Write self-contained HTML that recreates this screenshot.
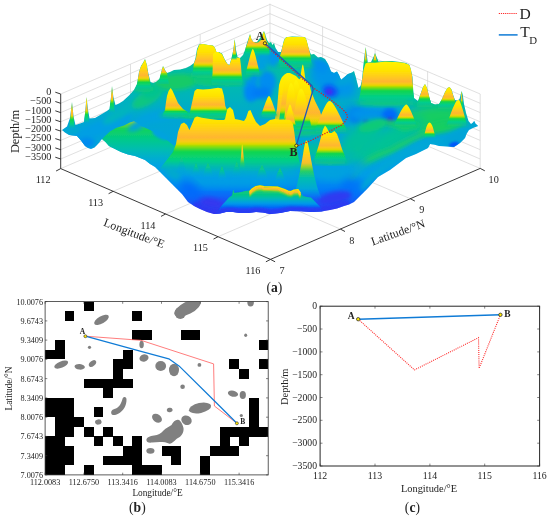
<!DOCTYPE html>
<html><head><meta charset="utf-8"><title>Figure</title>
<style>html,body{margin:0;padding:0;background:#fff}svg{display:block}text{font-family:"Liberation Serif", "DejaVu Serif", serif;fill:#222}</style>
</head><body>
<svg width="550" height="518" viewBox="0 0 550 518">
<rect width="550" height="518" fill="#fff"/>
<g id="panel-a">

<defs>
<linearGradient id="pk" x1="0" y1="0" x2="0" y2="1"><stop offset="0" stop-color="#fff205"/><stop offset="0.22" stop-color="#ffd80a"/><stop offset="0.48" stop-color="#ffbd2a"/><stop offset="0.62" stop-color="#f8bf2c"/><stop offset="0.72" stop-color="#c2cc27"/><stop offset="0.84" stop-color="#3cd059"/><stop offset="0.93" stop-color="#00c394"/><stop offset="1" stop-color="#00b9ab" stop-opacity="0"/></linearGradient>
<linearGradient id="pk2" x1="0" y1="0" x2="0" y2="1"><stop offset="0" stop-color="#fff205"/><stop offset="0.25" stop-color="#ffd80a"/><stop offset="0.55" stop-color="#ffbd2a"/><stop offset="0.72" stop-color="#f8bf2c"/><stop offset="0.84" stop-color="#b4cc2b"/><stop offset="0.94" stop-color="#3cd059"/><stop offset="1" stop-color="#10ca7e"/></linearGradient>
<linearGradient id="sp" x1="0" y1="0" x2="0" y2="1"><stop offset="0" stop-color="#ffec07"/><stop offset="0.2" stop-color="#ffc828"/><stop offset="0.38" stop-color="#f4c02c"/><stop offset="0.48" stop-color="#a6d226"/><stop offset="0.6" stop-color="#22ce6c"/><stop offset="0.8" stop-color="#00b9b5"/><stop offset="1" stop-color="#00a9ce" stop-opacity="0"/></linearGradient>
<linearGradient id="base" x1="0" y1="40" x2="0" y2="214" gradientUnits="userSpaceOnUse"><stop offset="0" stop-color="#05c293"/><stop offset="0.29" stop-color="#00b7b5"/><stop offset="0.46" stop-color="#00a6d2"/><stop offset="0.63" stop-color="#00a3de"/><stop offset="0.775" stop-color="#009de7"/><stop offset="0.86" stop-color="#007cf7"/><stop offset="0.935" stop-color="#1b51f7"/><stop offset="1" stop-color="#3b31eb"/></linearGradient>
<filter id="b1" x="-20%" y="-20%" width="140%" height="140%"><feGaussianBlur stdDeviation="0.6"/></filter>
<filter id="b2" x="-30%" y="-30%" width="160%" height="160%"><feGaussianBlur stdDeviation="2.2"/></filter>
<filter id="b3" x="-30%" y="-30%" width="160%" height="160%"><feGaussianBlur stdDeviation="4"/></filter>
<filter id="b4" x="-30%" y="-30%" width="160%" height="160%"><feGaussianBlur stdDeviation="1.2"/></filter>
<clipPath id="sil"><polygon points="62.0,130.0 67.0,126.5 70.0,118.0 72.0,102.0 73.6,117.0 75.5,125.0 80.0,123.5 84.0,122.0 85.4,110.0 86.5,97.0 88.0,110.0 89.6,118.5 95.0,118.0 101.0,114.5 107.0,111.0 109.5,109.0 111.0,97.0 112.0,86.0 113.4,97.0 115.5,105.0 119.0,103.5 123.0,101.0 129.0,95.5 134.0,90.0 137.0,84.0 139.0,72.0 141.0,66.0 143.5,62.0 145.0,59.0 146.6,64.0 148.5,74.0 150.5,82.0 153.0,83.0 156.0,82.0 159.5,79.0 161.5,71.0 163.0,66.0 165.0,70.0 167.0,73.0 170.0,72.0 174.0,70.0 180.0,69.5 186.0,68.0 190.0,66.0 194.0,63.0 195.5,58.0 197.0,49.0 199.0,44.5 203.0,44.0 208.0,45.0 213.0,45.5 215.0,48.0 216.5,52.0 219.0,52.0 222.0,53.5 225.0,60.0 227.5,64.0 229.5,65.0 231.5,58.0 233.3,50.0 234.7,39.0 236.0,50.0 237.6,57.0 240.0,58.0 243.0,55.0 245.0,50.0 247.0,43.0 249.0,37.0 250.0,34.0 251.4,39.0 253.5,42.0 257.0,42.0 260.0,38.0 262.5,34.0 264.0,31.0 265.4,35.0 267.0,40.0 269.0,43.0 271.0,42.0 272.5,45.0 274.0,43.0 275.5,48.0 278.0,52.0 281.0,52.0 282.5,46.0 284.0,40.0 286.0,37.3 292.0,36.6 299.0,36.8 305.0,37.2 306.5,40.0 308.0,46.0 309.5,51.0 311.0,54.5 314.0,54.0 318.0,57.5 321.0,57.0 325.0,59.0 328.0,64.0 331.0,71.5 334.0,73.0 337.0,71.5 339.0,75.0 341.0,80.0 344.0,77.5 348.0,74.0 352.0,72.5 354.0,71.0 356.0,78.0 358.5,88.0 360.5,86.0 362.0,80.0 363.3,66.0 364.6,55.0 365.7,47.0 366.8,55.0 367.8,62.5 371.0,62.0 373.5,57.0 375.0,53.0 376.6,57.0 378.5,61.5 385.0,61.0 392.0,61.0 400.0,62.0 406.0,63.0 409.5,65.0 411.0,70.0 412.5,77.0 413.2,90.0 414.0,98.0 418.0,101.0 420.5,94.0 423.0,87.0 425.0,84.0 427.0,88.0 429.0,96.0 431.0,103.0 435.0,104.5 439.0,104.0 442.0,99.0 445.0,92.0 447.5,88.0 449.5,87.0 451.5,89.5 453.5,96.0 455.0,100.0 457.5,100.5 459.5,99.0 460.8,94.0 461.7,91.0 462.8,95.0 464.0,104.0 466.0,113.0 468.5,121.0 471.0,124.0 473.0,122.5 474.2,120.8 475.5,123.5 478.2,126.0 473.0,128.0 469.0,130.0 466.5,134.0 465.0,138.0 460.0,143.0 454.0,147.0 447.0,146.5 439.0,146.0 434.0,144.5 430.0,144.0 428.0,148.0 422.0,151.0 416.0,154.0 411.0,156.0 406.0,158.0 402.0,161.0 398.0,164.0 394.0,167.0 390.0,170.0 384.0,173.5 378.0,177.0 373.0,182.5 368.0,188.0 365.0,191.0 362.0,194.0 358.0,198.0 354.0,202.0 349.0,204.5 344.0,206.0 337.0,208.5 330.0,210.0 321.0,211.5 312.0,212.0 301.0,211.2 290.0,211.0 280.0,213.0 270.0,214.0 263.0,212.5 256.0,212.0 248.0,213.0 240.0,213.0 233.0,212.0 226.0,212.0 220.0,213.5 214.0,214.0 207.0,212.0 200.0,209.0 194.0,206.0 188.0,202.0 185.0,198.0 182.0,194.0 177.0,189.0 172.0,184.0 166.0,178.0 160.0,172.0 155.0,167.0 150.0,164.0 145.0,160.0 140.0,158.0 135.0,156.0 128.0,154.5 121.0,152.0 115.0,149.0 109.0,146.0 105.5,142.0 102.0,139.0 100.0,141.5 98.0,144.0 94.5,147.5 91.0,149.0 88.0,148.0 85.0,146.0 81.0,140.5 77.0,136.0 73.0,135.5 69.0,135.0 65.0,132.5"/></clipPath>
</defs>
<path d="M60.7,94.0 L270.0,4.4 L480.2,94.0 M60.7,103.3 L270.0,13.7 L480.2,103.3 M60.7,112.6 L270.0,23.0 L480.2,112.6 M60.7,121.8 L270.0,32.2 L480.2,121.8 M60.7,131.1 L270.0,41.5 L480.2,131.1 M60.7,140.4 L270.0,50.8 L480.2,140.4 M60.7,149.7 L270.0,60.1 L480.2,149.7 M60.7,159.0 L270.0,69.4 L480.2,159.0 M130.5,138.7 v-74.6 M200.2,108.9 v-74.6 M322.6,101.3 v-74.6 M375.1,123.7 v-74.6 M427.6,146.1 v-74.6 M270.0,79.0 V3.6 M480.2,168.4 V94 M60.7,168.6 L270.0,79.0 L480.2,168.4 M340.4,229.1 L130.5,138.7 M410.3,198.7 L200.2,108.9 M113.2,191.3 L322.6,101.3 M165.6,214.0 L375.1,123.7 M218.1,236.7 L427.6,146.1" fill="none" stroke="#d2d2d2" stroke-width="0.7"/>
<g clip-path="url(#sil)">
<rect x="55" y="25" width="430" height="195" fill="url(#base)"/>
<defs>
<linearGradient id="rg" x1="0" y1="0" x2="0" y2="1"><stop offset="0" stop-color="#21d25c"/><stop offset="0.35" stop-color="#09c881"/><stop offset="0.7" stop-color="#00b9b0"/><stop offset="1" stop-color="#00a9ce" stop-opacity="0"/></linearGradient>
<linearGradient id="rg2" x1="0" y1="0" x2="0" y2="1"><stop offset="0" stop-color="#10ca77"/><stop offset="0.5" stop-color="#00bbab"/><stop offset="1" stop-color="#00a9ce" stop-opacity="0"/></linearGradient>
<linearGradient id="rgy" x1="0" y1="0" x2="0" y2="1"><stop offset="0" stop-color="#c2d81f"/><stop offset="0.06" stop-color="#6fd62f"/><stop offset="0.16" stop-color="#13d25d"/><stop offset="0.36" stop-color="#00ca88"/><stop offset="0.6" stop-color="#00bbb5"/><stop offset="0.85" stop-color="#00acd6" stop-opacity="0.6"/><stop offset="1" stop-color="#00a9e3" stop-opacity="0"/></linearGradient>
</defs>
<ellipse cx="100.0" cy="128.0" rx="34.0" ry="7.0" fill="#009fe3" filter="url(#b2)" transform="rotate(-22 100.0 128.0)"/>
<ellipse cx="86.0" cy="143.0" rx="9.0" ry="5.0" fill="#008aef" filter="url(#b2)" transform="rotate(-5 86.0 143.0)"/>
<ellipse cx="72.0" cy="131.0" rx="8.0" ry="3.0" fill="#00a8d2" filter="url(#b4)" transform="rotate(0 72.0 131.0)"/>
<ellipse cx="120.0" cy="113.0" rx="20.0" ry="5.0" fill="#00b4be" filter="url(#b2)" transform="rotate(-32 120.0 113.0)"/>
<ellipse cx="147.0" cy="98.0" rx="17.0" ry="7.0" fill="#0cc681" filter="url(#b2)" transform="rotate(-32 147.0 98.0)"/>
<polygon points="99.0,143.0 104.0,137.0 110.0,131.5 116.0,128.0 124.0,125.5 130.0,122.5 134.0,121.3 137.0,122.8 141.0,126.0 149.0,129.5 158.0,134.0 168.0,141.0 178.0,149.0 184.0,170.0 150.0,168.0 122.0,155.0 104.0,147.0" fill="url(#rgy)" filter="url(#b1)"/>
<ellipse cx="160.0" cy="135.0" rx="9.0" ry="3.4" fill="#00a3de" filter="url(#b4)" transform="rotate(28 160.0 135.0)"/>
<ellipse cx="176.0" cy="82.0" rx="22.0" ry="8.0" fill="#15ca68" filter="url(#b2)" transform="rotate(-5 176.0 82.0)"/>
<ellipse cx="152.0" cy="92.0" rx="10.0" ry="6.0" fill="#05c291" filter="url(#b2)" transform="rotate(-20 152.0 92.0)"/>
<ellipse cx="160.0" cy="116.0" rx="26.0" ry="6.0" fill="#00a3de" filter="url(#b2)" transform="rotate(-12 160.0 116.0)"/>
<ellipse cx="137.0" cy="126.0" rx="10.0" ry="4.0" fill="#00a3de" filter="url(#b2)" transform="rotate(-25 137.0 126.0)"/>
<ellipse cx="186.0" cy="116.0" rx="10.0" ry="3.5" fill="#00a6da" filter="url(#b4)" transform="rotate(0 186.0 116.0)"/>
<ellipse cx="207.0" cy="80.0" rx="14.0" ry="6.0" fill="#0bc87a" filter="url(#b2)" transform="rotate(0 207.0 80.0)"/>
<ellipse cx="205.0" cy="116.0" rx="24.0" ry="3.0" fill="#09c87e" filter="url(#b4)" transform="rotate(0 205.0 116.0)"/>
<ellipse cx="176.0" cy="113.0" rx="12.0" ry="2.6" fill="#09c87e" filter="url(#b4)" transform="rotate(0 176.0 113.0)"/>
<ellipse cx="251.0" cy="80.0" rx="7.0" ry="22.0" fill="#0092eb" filter="url(#b2)" transform="rotate(4 251.0 80.0)"/>
<ellipse cx="252.0" cy="93.0" rx="7.0" ry="8.0" fill="#0084f7" filter="url(#b2)" transform="rotate(0 252.0 93.0)"/>
<ellipse cx="262.0" cy="62.0" rx="7.0" ry="10.0" fill="#00a0de" filter="url(#b2)" transform="rotate(15 262.0 62.0)"/>
<ellipse cx="246.0" cy="72.0" rx="6.0" ry="8.0" fill="#03c291" filter="url(#b2)" transform="rotate(0 246.0 72.0)"/>
<ellipse cx="274.0" cy="58.0" rx="7.0" ry="9.0" fill="#0096e9" filter="url(#b2)" transform="rotate(0 274.0 58.0)"/>
<ellipse cx="267.0" cy="82.0" rx="9.0" ry="11.0" fill="#008def" filter="url(#b2)" transform="rotate(0 267.0 82.0)"/>
<ellipse cx="262.0" cy="93.0" rx="10.0" ry="6.0" fill="#007cf5" filter="url(#b2)" transform="rotate(0 262.0 93.0)"/>
<ellipse cx="333.0" cy="82.0" rx="26.0" ry="15.0" fill="#0095e9" filter="url(#b3)" transform="rotate(25 333.0 82.0)"/>
<ellipse cx="320.0" cy="66.0" rx="10.0" ry="7.0" fill="#008fed" filter="url(#b2)" transform="rotate(20 320.0 66.0)"/>
<ellipse cx="330.0" cy="91.0" rx="8.0" ry="6.0" fill="#1150f9" filter="url(#b2)" transform="rotate(20 330.0 91.0)"/>
<ellipse cx="329.0" cy="92.0" rx="3.5" ry="3.0" fill="#4032ef" filter="url(#b4)" transform="rotate(0 329.0 92.0)"/>
<ellipse cx="356.0" cy="116.0" rx="6.0" ry="7.0" fill="#0564fb" filter="url(#b2)" transform="rotate(0 356.0 116.0)"/>
<ellipse cx="365.5" cy="120.5" rx="3.0" ry="3.0" fill="#253df3" filter="url(#b4)" transform="rotate(0 365.5 120.5)"/>
<ellipse cx="356.0" cy="114.0" rx="14.0" ry="8.0" fill="#008ceb" filter="url(#b3)" transform="rotate(0 356.0 114.0)"/>
<ellipse cx="345.0" cy="80.0" rx="10.0" ry="5.0" fill="#00a3da" filter="url(#b2)" transform="rotate(-20 345.0 80.0)"/>
<ellipse cx="432.0" cy="118.0" rx="34.0" ry="12.0" fill="#16cd62" filter="url(#b3)" transform="rotate(-8 432.0 118.0)"/>
<ellipse cx="440.0" cy="127.0" rx="22.0" ry="6.0" fill="#19ce60" filter="url(#b2)" transform="rotate(-12 440.0 127.0)"/>
<ellipse cx="385.0" cy="98.0" rx="24.0" ry="5.0" fill="#10ca74" filter="url(#b2)" transform="rotate(0 385.0 98.0)"/>
<ellipse cx="384.0" cy="107.0" rx="20.0" ry="4.0" fill="#00acca" filter="url(#b2)" transform="rotate(0 384.0 107.0)"/>
<ellipse cx="372.0" cy="114.0" rx="20.0" ry="6.0" fill="#0092eb" filter="url(#b2)" transform="rotate(0 372.0 114.0)"/>
<ellipse cx="390.0" cy="116.0" rx="8.0" ry="8.0" fill="#0569f9" filter="url(#b2)" transform="rotate(0 390.0 116.0)"/>
<ellipse cx="390.0" cy="120.5" rx="3.5" ry="3.5" fill="#2e36f1" filter="url(#b4)" transform="rotate(0 390.0 120.5)"/>
<ellipse cx="386.0" cy="142.0" rx="44.0" ry="11.0" fill="#03c296" filter="url(#b3)" transform="rotate(-31 386.0 142.0)"/>
<polyline points="416.0,125.0 404.0,128.0 396.0,124.5 386.0,122.5 378.0,124.0 371.0,129.5 364.0,137.5 357.0,147.5" fill="none" stroke="#19cc6a" stroke-width="6" stroke-linejoin="round" stroke-linecap="round" filter="url(#b2)"/>
<polyline points="426.0,132.5 411.0,139.5 391.0,150.0 378.0,155.0 368.0,160.0 358.0,167.5 350.0,178.0" fill="none" stroke="#15ca72" stroke-width="6" stroke-linejoin="round" stroke-linecap="round" filter="url(#b2)"/>
<polyline points="440.0,140.0 420.0,147.0 400.0,156.0 385.0,166.0 372.0,177.0 362.0,188.0" fill="none" stroke="#00a8d6" stroke-width="6" stroke-linejoin="round" stroke-linecap="round" filter="url(#b2)"/>
<ellipse cx="455.0" cy="139.0" rx="12.0" ry="5.0" fill="#00a3d6" filter="url(#b2)" transform="rotate(-25 455.0 139.0)"/>
<ellipse cx="454.0" cy="144.5" rx="5.0" ry="2.6" fill="#0555fb" filter="url(#b4)" transform="rotate(-15 454.0 144.5)"/>
<ellipse cx="362.0" cy="138.0" rx="24.0" ry="13.0" fill="#02c09b" filter="url(#b3)" transform="rotate(-35 362.0 138.0)"/>
<ellipse cx="372.0" cy="126.0" rx="14.0" ry="5.0" fill="#10ca77" filter="url(#b2)" transform="rotate(-15 372.0 126.0)"/>
<ellipse cx="352.0" cy="172.0" rx="18.0" ry="7.0" fill="#00a0e3" filter="url(#b3)" transform="rotate(-30 352.0 172.0)"/>
<ellipse cx="350.0" cy="188.0" rx="10.0" ry="12.0" fill="#0074f7" filter="url(#b3)" transform="rotate(-35 350.0 188.0)"/>
<ellipse cx="335.0" cy="198.0" rx="17.0" ry="6.5" fill="#2d3af1" filter="url(#b2)" transform="rotate(-12 335.0 198.0)"/>
<ellipse cx="236.0" cy="158.0" rx="64.0" ry="7.0" fill="#14cc6f" filter="url(#b3)" transform="rotate(2 236.0 158.0)"/>
<ellipse cx="236.0" cy="170.0" rx="64.0" ry="5.0" fill="#00b5b9" filter="url(#b3)" transform="rotate(2 236.0 170.0)"/>
<ellipse cx="240.0" cy="181.0" rx="70.0" ry="6.0" fill="#00a0e3" filter="url(#b3)" transform="rotate(0 240.0 181.0)"/>
<ellipse cx="211.0" cy="203.0" rx="14.0" ry="5.0" fill="#3537ef" filter="url(#b2)" transform="rotate(8 211.0 203.0)"/>
<ellipse cx="190.0" cy="190.0" rx="12.0" ry="7.0" fill="#0569fb" filter="url(#b3)" transform="rotate(40 190.0 190.0)"/>
<ellipse cx="172.0" cy="172.0" rx="10.0" ry="5.0" fill="#00a9ce" filter="url(#b2)" transform="rotate(40 172.0 172.0)"/>
<ellipse cx="326.0" cy="152.0" rx="24.0" ry="8.0" fill="#05c296" filter="url(#b3)" transform="rotate(10 326.0 152.0)"/>
<ellipse cx="332.0" cy="172.0" rx="18.0" ry="7.0" fill="#00a2de" filter="url(#b3)" transform="rotate(0 332.0 172.0)"/>
<defs>
<linearGradient id="g1" x1="0" y1="101" x2="0" y2="129" gradientUnits="userSpaceOnUse"><stop offset="0.000" stop-color="#fff305"/><stop offset="0.217" stop-color="#ffe200"/><stop offset="0.366" stop-color="#ffc624"/><stop offset="0.446" stop-color="#ffb630"/><stop offset="0.503" stop-color="#f8ca18"/><stop offset="0.543" stop-color="#dcd800"/><stop offset="0.571" stop-color="#9ade07"/><stop offset="0.666" stop-color="#12d64d"/><stop offset="0.829" stop-color="#00ce8b"/><stop offset="1.000" stop-color="#00bba8" stop-opacity="0"/></linearGradient>
</defs>
<path d="M68.2,129.0 C70.3,129.0 71.4,101.0 72.0,101.0 C72.6,101.0 73.7,129.0 75.8,129.0 Z" fill="url(#g1)"/>
<defs>
<linearGradient id="g2" x1="0" y1="96" x2="0" y2="123" gradientUnits="userSpaceOnUse"><stop offset="0.000" stop-color="#fff305"/><stop offset="0.225" stop-color="#ffe200"/><stop offset="0.379" stop-color="#ffc624"/><stop offset="0.462" stop-color="#ffb630"/><stop offset="0.521" stop-color="#f8ca18"/><stop offset="0.563" stop-color="#dcd800"/><stop offset="0.593" stop-color="#9ade07"/><stop offset="0.682" stop-color="#12d64d"/><stop offset="0.837" stop-color="#00ce8b"/><stop offset="1.000" stop-color="#00bba8" stop-opacity="0"/></linearGradient>
</defs>
<path d="M82.9,123.0 C84.9,123.0 85.9,96.0 86.5,96.0 C87.1,96.0 88.1,123.0 90.1,123.0 Z" fill="url(#g2)"/>
<defs>
<linearGradient id="g3" x1="0" y1="85" x2="0" y2="113" gradientUnits="userSpaceOnUse"><stop offset="0.000" stop-color="#fff305"/><stop offset="0.217" stop-color="#ffe200"/><stop offset="0.366" stop-color="#ffc624"/><stop offset="0.446" stop-color="#ffb630"/><stop offset="0.503" stop-color="#f8ca18"/><stop offset="0.543" stop-color="#dcd800"/><stop offset="0.571" stop-color="#9ade07"/><stop offset="0.666" stop-color="#12d64d"/><stop offset="0.829" stop-color="#00ce8b"/><stop offset="1.000" stop-color="#00bba8" stop-opacity="0"/></linearGradient>
</defs>
<path d="M108.0,113.0 C110.2,113.0 111.4,85.0 112.0,85.0 C112.6,85.0 113.8,113.0 116.0,113.0 Z" fill="url(#g3)"/>
<ellipse cx="143.5" cy="88.8" rx="11.5" ry="3.0" fill="#10ca77" filter="url(#b2)" transform="rotate(0 143.5 88.8)"/>
<defs>
<linearGradient id="g4" x1="0" y1="58.6" x2="0" y2="90" gradientUnits="userSpaceOnUse"><stop offset="0.000" stop-color="#fff305"/><stop offset="0.259" stop-color="#ffe200"/><stop offset="0.436" stop-color="#ffc624"/><stop offset="0.532" stop-color="#ffb630"/><stop offset="0.600" stop-color="#f8ca18"/><stop offset="0.647" stop-color="#dcd800"/><stop offset="0.682" stop-color="#9ade07"/><stop offset="0.752" stop-color="#12d64d"/><stop offset="0.873" stop-color="#00ce8b"/><stop offset="1.000" stop-color="#00bba8" stop-opacity="0"/></linearGradient>
</defs>
<polygon points="135.0,90.0 137.0,84.0 138.5,74.0 140.0,68.0 141.7,65.0 143.0,63.0 145.0,58.6 146.7,63.0 148.0,72.0 150.0,82.0 152.0,90.0" fill="url(#g4)" filter="url(#b1)"/>
<defs>
<linearGradient id="g5" x1="0" y1="65.6" x2="0" y2="86" gradientUnits="userSpaceOnUse"><stop offset="0.000" stop-color="#fff305"/><stop offset="0.138" stop-color="#ffe200"/><stop offset="0.232" stop-color="#ffc624"/><stop offset="0.283" stop-color="#ffb630"/><stop offset="0.319" stop-color="#f8ca18"/><stop offset="0.345" stop-color="#dcd800"/><stop offset="0.363" stop-color="#9ade07"/><stop offset="0.503" stop-color="#12d64d"/><stop offset="0.745" stop-color="#00ce8b"/><stop offset="1.000" stop-color="#00bba8" stop-opacity="0"/></linearGradient>
</defs>
<polygon points="157.0,84.0 159.0,80.0 161.0,72.0 163.0,65.6 165.0,70.0 167.0,73.0 169.0,84.0" fill="url(#g5)" filter="url(#b1)"/>
<ellipse cx="205.0" cy="74.8" rx="16.0" ry="3.0" fill="#10ca77" filter="url(#b2)" transform="rotate(0 205.0 74.8)"/>
<defs>
<linearGradient id="g6" x1="0" y1="43.2" x2="0" y2="76" gradientUnits="userSpaceOnUse"><stop offset="0.000" stop-color="#fff305"/><stop offset="0.264" stop-color="#ffe200"/><stop offset="0.445" stop-color="#ffc624"/><stop offset="0.542" stop-color="#ffb630"/><stop offset="0.612" stop-color="#f8ca18"/><stop offset="0.660" stop-color="#dcd800"/><stop offset="0.695" stop-color="#9ade07"/><stop offset="0.762" stop-color="#12d64d"/><stop offset="0.878" stop-color="#00ce8b"/><stop offset="1.000" stop-color="#00bba8" stop-opacity="0"/></linearGradient>
</defs>
<polygon points="192.0,76.0 194.0,63.0 196.0,58.0 197.3,50.0 199.3,44.4 202.3,43.2 205.0,44.0 208.4,43.6 211.4,45.0 214.4,46.0 216.0,50.0 217.0,58.0 218.0,76.0" fill="url(#g6)" filter="url(#b1)"/>
<ellipse cx="227.0" cy="83.0" rx="18.5" ry="2.5" fill="#10ca77" filter="url(#b2)" transform="rotate(0 227.0 83.0)"/>
<defs>
<linearGradient id="g7" x1="0" y1="51.8" x2="0" y2="84" gradientUnits="userSpaceOnUse"><stop offset="0.000" stop-color="#fff305"/><stop offset="0.274" stop-color="#ffe200"/><stop offset="0.461" stop-color="#ffc624"/><stop offset="0.562" stop-color="#ffb630"/><stop offset="0.634" stop-color="#f8ca18"/><stop offset="0.684" stop-color="#dcd800"/><stop offset="0.720" stop-color="#9ade07"/><stop offset="0.782" stop-color="#12d64d"/><stop offset="0.888" stop-color="#00ce8b"/><stop offset="1.000" stop-color="#00bba8" stop-opacity="0"/></linearGradient>
</defs>
<polygon points="211.0,84.0 212.5,74.0 213.0,54.0 215.0,52.0 218.0,51.8 222.0,54.0 226.0,62.0 229.0,65.0 232.0,58.0 234.0,57.0 237.0,57.6 240.0,58.0 241.0,66.0 241.6,74.0 243.0,84.0" fill="url(#g7)" filter="url(#b1)"/>
<defs>
<linearGradient id="g8" x1="0" y1="38.5" x2="0" y2="60" gradientUnits="userSpaceOnUse"><stop offset="0.000" stop-color="#fff305"/><stop offset="0.274" stop-color="#ffe200"/><stop offset="0.461" stop-color="#ffc624"/><stop offset="0.562" stop-color="#ffb630"/><stop offset="0.634" stop-color="#f8ca18"/><stop offset="0.685" stop-color="#dcd800"/><stop offset="0.721" stop-color="#9ade07"/><stop offset="0.782" stop-color="#12d64d"/><stop offset="0.888" stop-color="#00ce8b"/><stop offset="1.000" stop-color="#00bba8" stop-opacity="0"/></linearGradient>
</defs>
<path d="M231.4,60.0 C232.9,60.0 234.0,38.5 234.4,38.5 C234.8,38.5 235.9,60.0 237.4,60.0 Z" fill="url(#g8)"/>
<ellipse cx="257.0" cy="47.0" rx="11.0" ry="4.0" fill="#10ca77" filter="url(#b4)" transform="rotate(0 257.0 47.0)"/>
<defs>
<linearGradient id="g9" x1="0" y1="30.6" x2="0" y2="56" gradientUnits="userSpaceOnUse"><stop offset="0.000" stop-color="#fff305"/><stop offset="0.245" stop-color="#ffe200"/><stop offset="0.413" stop-color="#ffc624"/><stop offset="0.504" stop-color="#ffb630"/><stop offset="0.568" stop-color="#f8ca18"/><stop offset="0.613" stop-color="#dcd800"/><stop offset="0.646" stop-color="#9ade07"/><stop offset="0.724" stop-color="#12d64d"/><stop offset="0.858" stop-color="#00ce8b"/><stop offset="1.000" stop-color="#00bba8" stop-opacity="0"/></linearGradient>
</defs>
<polygon points="244.0,56.0 246.0,47.0 247.8,42.0 249.2,37.0 250.2,33.6 251.2,37.0 252.6,41.0 255.0,42.5 258.0,42.6 261.0,40.0 262.6,35.0 263.9,30.6 265.0,35.0 266.0,40.0 268.0,44.0 270.0,56.0" fill="url(#g9)" filter="url(#b1)"/>
<ellipse cx="252.8" cy="73.0" rx="9.0" ry="2.0" fill="#10ca77" filter="url(#b2)" transform="rotate(0 252.8 73.0)"/>
<defs>
<linearGradient id="g10" x1="0" y1="49" x2="0" y2="74" gradientUnits="userSpaceOnUse"><stop offset="0.000" stop-color="#fff305"/><stop offset="0.296" stop-color="#ffe200"/><stop offset="0.499" stop-color="#ffc624"/><stop offset="0.608" stop-color="#ffb630"/><stop offset="0.686" stop-color="#f8ca18"/><stop offset="0.741" stop-color="#dcd800"/><stop offset="0.780" stop-color="#9ade07"/><stop offset="0.828" stop-color="#12d64d"/><stop offset="0.912" stop-color="#00ce8b"/><stop offset="1.000" stop-color="#00bba8" stop-opacity="0"/></linearGradient>
</defs>
<path d="M245.4,74.0 C246.1,74.0 251.0,49.0 252.8,49.0 C254.7,49.0 259.5,74.0 260.2,74.0 Z" fill="url(#g10)"/>
<ellipse cx="295.0" cy="65.0" rx="19.5" ry="2.5" fill="#10ca77" filter="url(#b2)" transform="rotate(0 295.0 65.0)"/>
<defs>
<linearGradient id="g11" x1="0" y1="36.5" x2="0" y2="66" gradientUnits="userSpaceOnUse"><stop offset="0.000" stop-color="#fff305"/><stop offset="0.251" stop-color="#ffe200"/><stop offset="0.423" stop-color="#ffc624"/><stop offset="0.516" stop-color="#ffb630"/><stop offset="0.582" stop-color="#f8ca18"/><stop offset="0.628" stop-color="#dcd800"/><stop offset="0.661" stop-color="#9ade07"/><stop offset="0.736" stop-color="#12d64d"/><stop offset="0.864" stop-color="#00ce8b"/><stop offset="1.000" stop-color="#00bba8" stop-opacity="0"/></linearGradient>
</defs>
<polygon points="278.0,66.0 280.0,56.0 281.3,52.0 282.7,44.0 285.3,37.7 288.4,36.5 294.0,36.9 300.0,36.6 306.4,37.0 308.4,44.0 309.4,50.0 310.4,56.0 312.0,66.0" fill="url(#g11)" filter="url(#b1)"/>
<defs>
<linearGradient id="g12" x1="0" y1="46.5" x2="0" y2="70" gradientUnits="userSpaceOnUse"><stop offset="0.000" stop-color="#fff305"/><stop offset="0.218" stop-color="#ffe200"/><stop offset="0.368" stop-color="#ffc624"/><stop offset="0.448" stop-color="#ffb630"/><stop offset="0.506" stop-color="#f8ca18"/><stop offset="0.546" stop-color="#dcd800"/><stop offset="0.574" stop-color="#9ade07"/><stop offset="0.668" stop-color="#12d64d"/><stop offset="0.830" stop-color="#00ce8b"/><stop offset="1.000" stop-color="#00bba8" stop-opacity="0"/></linearGradient>
</defs>
<path d="M362.7,70.0 C364.5,70.0 365.4,46.5 365.7,46.5 C366.0,46.5 366.9,70.0 368.7,70.0 Z" fill="url(#g12)"/>
<defs>
<linearGradient id="g13" x1="0" y1="53" x2="0" y2="66" gradientUnits="userSpaceOnUse"><stop offset="0.000" stop-color="#fff305"/><stop offset="0.205" stop-color="#ffe200"/><stop offset="0.345" stop-color="#ffc624"/><stop offset="0.420" stop-color="#ffb630"/><stop offset="0.474" stop-color="#f8ca18"/><stop offset="0.512" stop-color="#dcd800"/><stop offset="0.538" stop-color="#9ade07"/><stop offset="0.640" stop-color="#12d64d"/><stop offset="0.815" stop-color="#00ce8b"/><stop offset="1.000" stop-color="#00bba8" stop-opacity="0"/></linearGradient>
</defs>
<path d="M371.4,66.0 C373.0,66.0 374.5,53.0 375.0,53.0 C375.5,53.0 377.0,66.0 378.6,66.0 Z" fill="url(#g13)"/>
<ellipse cx="386.5" cy="102.8" rx="31.5" ry="3.0" fill="#10ca77" filter="url(#b2)" transform="rotate(0 386.5 102.8)"/>
<defs>
<linearGradient id="g14" x1="0" y1="61.4" x2="0" y2="104" gradientUnits="userSpaceOnUse"><stop offset="0.000" stop-color="#fff305"/><stop offset="0.228" stop-color="#ffe200"/><stop offset="0.385" stop-color="#ffc624"/><stop offset="0.469" stop-color="#ffb630"/><stop offset="0.529" stop-color="#f8ca18"/><stop offset="0.571" stop-color="#dcd800"/><stop offset="0.601" stop-color="#9ade07"/><stop offset="0.689" stop-color="#12d64d"/><stop offset="0.840" stop-color="#00ce8b"/><stop offset="1.000" stop-color="#00bba8" stop-opacity="0"/></linearGradient>
</defs>
<polygon points="358.0,104.0 360.5,92.0 362.0,80.0 363.5,70.0 365.5,63.6 368.0,62.6 375.0,62.8 385.0,61.4 395.0,62.0 403.0,62.6 409.5,64.8 411.3,70.0 412.6,80.0 413.4,92.0 415.0,104.0" fill="url(#g14)" filter="url(#b1)"/>
<ellipse cx="424.5" cy="104.5" rx="10.4" ry="3.0" fill="#10ca77" filter="url(#b2)" transform="rotate(0 424.5 104.5)"/>
<defs>
<linearGradient id="g15" x1="0" y1="83.5" x2="0" y2="106" gradientUnits="userSpaceOnUse"><stop offset="0.000" stop-color="#fff305"/><stop offset="0.228" stop-color="#ffe200"/><stop offset="0.384" stop-color="#ffc624"/><stop offset="0.468" stop-color="#ffb630"/><stop offset="0.528" stop-color="#f8ca18"/><stop offset="0.570" stop-color="#dcd800"/><stop offset="0.600" stop-color="#9ade07"/><stop offset="0.688" stop-color="#12d64d"/><stop offset="0.840" stop-color="#00ce8b"/><stop offset="1.000" stop-color="#00bba8" stop-opacity="0"/></linearGradient>
</defs>
<path d="M416.5,106.0 C417.4,106.0 422.6,83.5 425.0,83.5 C427.1,83.5 431.8,106.0 432.5,106.0 Z" fill="url(#g15)"/>
<ellipse cx="447.3" cy="106.5" rx="12.4" ry="3.0" fill="#10ca77" filter="url(#b2)" transform="rotate(0 447.3 106.5)"/>
<defs>
<linearGradient id="g16" x1="0" y1="86" x2="0" y2="108" gradientUnits="userSpaceOnUse"><stop offset="0.000" stop-color="#fff305"/><stop offset="0.242" stop-color="#ffe200"/><stop offset="0.407" stop-color="#ffc624"/><stop offset="0.496" stop-color="#ffb630"/><stop offset="0.560" stop-color="#f8ca18"/><stop offset="0.605" stop-color="#dcd800"/><stop offset="0.636" stop-color="#9ade07"/><stop offset="0.716" stop-color="#12d64d"/><stop offset="0.855" stop-color="#00ce8b"/><stop offset="1.000" stop-color="#00bba8" stop-opacity="0"/></linearGradient>
</defs>
<path d="M437.3,108.0 C438.5,108.0 445.7,86.0 449.3,86.0 C451.7,86.0 456.5,108.0 457.3,108.0 Z" fill="url(#g16)"/>
<defs>
<linearGradient id="g17" x1="0" y1="90.5" x2="0" y2="110" gradientUnits="userSpaceOnUse"><stop offset="0.000" stop-color="#fff305"/><stop offset="0.205" stop-color="#ffe200"/><stop offset="0.345" stop-color="#ffc624"/><stop offset="0.420" stop-color="#ffb630"/><stop offset="0.474" stop-color="#f8ca18"/><stop offset="0.512" stop-color="#dcd800"/><stop offset="0.538" stop-color="#9ade07"/><stop offset="0.640" stop-color="#12d64d"/><stop offset="0.815" stop-color="#00ce8b"/><stop offset="1.000" stop-color="#00bba8" stop-opacity="0"/></linearGradient>
</defs>
<path d="M458.9,110.0 C460.6,110.0 461.4,90.5 461.7,90.5 C462.0,90.5 462.8,110.0 464.5,110.0 Z" fill="url(#g17)"/>
<ellipse cx="176.0" cy="115.0" rx="16.5" ry="2.5" fill="#10ca77" filter="url(#b2)" transform="rotate(0 176.0 115.0)"/>
<defs>
<linearGradient id="g18" x1="0" y1="88" x2="0" y2="116" gradientUnits="userSpaceOnUse"><stop offset="0.000" stop-color="#fff305"/><stop offset="0.299" stop-color="#ffe200"/><stop offset="0.503" stop-color="#ffc624"/><stop offset="0.613" stop-color="#ffb630"/><stop offset="0.691" stop-color="#f8ca18"/><stop offset="0.746" stop-color="#dcd800"/><stop offset="0.786" stop-color="#9ade07"/><stop offset="0.833" stop-color="#12d64d"/><stop offset="0.914" stop-color="#00ce8b"/><stop offset="1.000" stop-color="#00bba8" stop-opacity="0"/></linearGradient>
</defs>
<polygon points="162.0,116.0 165.0,110.0 166.0,102.0 167.0,96.0 168.6,91.0 170.7,88.0 172.4,90.5 174.0,94.0 178.0,103.0 183.0,109.0 187.0,111.5 190.0,116.0" fill="url(#g18)" filter="url(#b1)"/>
<ellipse cx="208.0" cy="116.0" rx="23.5" ry="2.5" fill="#10ca77" filter="url(#b2)" transform="rotate(0 208.0 116.0)"/>
<defs>
<linearGradient id="g19" x1="0" y1="87.7" x2="0" y2="117" gradientUnits="userSpaceOnUse"><stop offset="0.000" stop-color="#fff305"/><stop offset="0.283" stop-color="#ffe200"/><stop offset="0.476" stop-color="#ffc624"/><stop offset="0.580" stop-color="#ffb630"/><stop offset="0.655" stop-color="#f8ca18"/><stop offset="0.707" stop-color="#dcd800"/><stop offset="0.744" stop-color="#9ade07"/><stop offset="0.800" stop-color="#12d64d"/><stop offset="0.898" stop-color="#00ce8b"/><stop offset="1.000" stop-color="#00bba8" stop-opacity="0"/></linearGradient>
</defs>
<polygon points="187.0,117.0 190.0,112.0 192.6,100.0 194.6,91.0 197.0,89.0 203.0,89.4 210.0,89.0 218.0,87.7 222.0,88.5 224.0,96.0 225.3,106.0 227.0,110.0 229.0,117.0" fill="url(#g19)" filter="url(#b1)"/>
<defs>
<linearGradient id="g20" x1="0" y1="64.6" x2="0" y2="104" gradientUnits="userSpaceOnUse"><stop offset="0.000" stop-color="#fff305"/><stop offset="0.303" stop-color="#ffe200"/><stop offset="0.510" stop-color="#ffc624"/><stop offset="0.622" stop-color="#ffb630"/><stop offset="0.701" stop-color="#f8ca18"/><stop offset="0.757" stop-color="#dcd800"/><stop offset="0.797" stop-color="#9ade07"/><stop offset="0.842" stop-color="#12d64d"/><stop offset="0.919" stop-color="#00ce8b"/><stop offset="1.000" stop-color="#00bba8" stop-opacity="0"/></linearGradient>
</defs>
<path d="M296.3,104.0 C297.9,104.0 301.2,64.6 302.8,64.6 C304.4,64.6 307.7,104.0 309.3,104.0 Z" fill="url(#g20)"/>
<ellipse cx="298.5" cy="132.8" rx="28.5" ry="3.0" fill="#10ca77" filter="url(#b2)" transform="rotate(0 298.5 132.8)"/>
<defs>
<linearGradient id="g21" x1="0" y1="73" x2="0" y2="134" gradientUnits="userSpaceOnUse"><stop offset="0.000" stop-color="#fff305"/><stop offset="0.318" stop-color="#ffe200"/><stop offset="0.535" stop-color="#ffc624"/><stop offset="0.652" stop-color="#ffb630"/><stop offset="0.736" stop-color="#f8ca18"/><stop offset="0.794" stop-color="#dcd800"/><stop offset="0.836" stop-color="#9ade07"/><stop offset="0.872" stop-color="#12d64d"/><stop offset="0.934" stop-color="#00ce8b"/><stop offset="1.000" stop-color="#00bba8" stop-opacity="0"/></linearGradient>
</defs>
<polygon points="273.0,130.0 275.0,118.0 277.0,109.0 278.0,97.0 279.0,85.0 280.5,80.0 282.0,77.0 284.5,74.5 287.0,73.0 290.0,73.0 292.0,74.0 296.0,76.0 299.0,79.0 303.0,80.0 307.0,81.0 309.0,83.0 311.0,91.0 315.0,101.0 320.0,111.0 322.5,120.0 324.0,130.0" fill="url(#g21)" filter="url(#b1)"/>
<defs>
<linearGradient id="g22" x1="0" y1="74" x2="0" y2="122" gradientUnits="userSpaceOnUse"><stop offset="0.000" stop-color="#fff305"/><stop offset="0.301" stop-color="#ffe200"/><stop offset="0.507" stop-color="#ffc624"/><stop offset="0.618" stop-color="#ffb630"/><stop offset="0.697" stop-color="#f8ca18"/><stop offset="0.752" stop-color="#dcd800"/><stop offset="0.792" stop-color="#9ade07"/><stop offset="0.838" stop-color="#12d64d"/><stop offset="0.917" stop-color="#00ce8b"/><stop offset="1.000" stop-color="#00bba8" stop-opacity="0"/></linearGradient>
</defs>
<path d="M278.5,122.0 C280.2,122.0 283.2,74.0 287.0,74.0 C291.5,74.0 295.0,122.0 297.0,122.0 Z" fill="url(#g22)"/>
<defs>
<linearGradient id="g23" x1="0" y1="80" x2="0" y2="124" gradientUnits="userSpaceOnUse"><stop offset="0.000" stop-color="#fff305"/><stop offset="0.311" stop-color="#ffe200"/><stop offset="0.524" stop-color="#ffc624"/><stop offset="0.638" stop-color="#ffb630"/><stop offset="0.720" stop-color="#f8ca18"/><stop offset="0.777" stop-color="#dcd800"/><stop offset="0.818" stop-color="#9ade07"/><stop offset="0.858" stop-color="#12d64d"/><stop offset="0.927" stop-color="#00ce8b"/><stop offset="1.000" stop-color="#00bba8" stop-opacity="0"/></linearGradient>
</defs>
<path d="M287.0,124.0 C288.8,124.0 291.9,80.0 296.0,80.0 C300.9,80.0 304.8,124.0 307.0,124.0 Z" fill="url(#g23)"/>
<defs>
<linearGradient id="g24" x1="0" y1="83" x2="0" y2="126" gradientUnits="userSpaceOnUse"><stop offset="0.000" stop-color="#fff305"/><stop offset="0.309" stop-color="#ffe200"/><stop offset="0.521" stop-color="#ffc624"/><stop offset="0.635" stop-color="#ffb630"/><stop offset="0.716" stop-color="#f8ca18"/><stop offset="0.773" stop-color="#dcd800"/><stop offset="0.814" stop-color="#9ade07"/><stop offset="0.855" stop-color="#12d64d"/><stop offset="0.926" stop-color="#00ce8b"/><stop offset="1.000" stop-color="#00bba8" stop-opacity="0"/></linearGradient>
</defs>
<path d="M283.0,126.0 C284.2,126.0 287.0,83.0 291.0,83.0 C295.5,83.0 298.6,126.0 300.0,126.0 Z" fill="url(#g24)"/>
<defs>
<linearGradient id="g25" x1="0" y1="88.5" x2="0" y2="128" gradientUnits="userSpaceOnUse"><stop offset="0.000" stop-color="#fff305"/><stop offset="0.303" stop-color="#ffe200"/><stop offset="0.510" stop-color="#ffc624"/><stop offset="0.622" stop-color="#ffb630"/><stop offset="0.702" stop-color="#f8ca18"/><stop offset="0.758" stop-color="#dcd800"/><stop offset="0.797" stop-color="#9ade07"/><stop offset="0.842" stop-color="#12d64d"/><stop offset="0.919" stop-color="#00ce8b"/><stop offset="1.000" stop-color="#00bba8" stop-opacity="0"/></linearGradient>
</defs>
<path d="M291.5,128.0 C292.9,128.0 296.2,88.5 301.0,88.5 C306.5,88.5 310.4,128.0 312.0,128.0 Z" fill="url(#g25)"/>
<ellipse cx="269.0" cy="115.0" rx="10.1" ry="2.0" fill="#10ca77" filter="url(#b2)" transform="rotate(0 269.0 115.0)"/>
<defs>
<linearGradient id="g26" x1="0" y1="96" x2="0" y2="116" gradientUnits="userSpaceOnUse"><stop offset="0.000" stop-color="#fff305"/><stop offset="0.285" stop-color="#ffe200"/><stop offset="0.480" stop-color="#ffc624"/><stop offset="0.585" stop-color="#ffb630"/><stop offset="0.660" stop-color="#f8ca18"/><stop offset="0.713" stop-color="#dcd800"/><stop offset="0.750" stop-color="#9ade07"/><stop offset="0.805" stop-color="#12d64d"/><stop offset="0.900" stop-color="#00ce8b"/><stop offset="1.000" stop-color="#00bba8" stop-opacity="0"/></linearGradient>
</defs>
<path d="M260.5,116.0 C261.4,116.0 266.9,96.0 269.0,96.0 C271.1,96.0 276.6,116.0 277.5,116.0 Z" fill="url(#g26)"/>
<defs>
<linearGradient id="g27" x1="0" y1="104.5" x2="0" y2="129" gradientUnits="userSpaceOnUse"><stop offset="0.000" stop-color="#fff305"/><stop offset="0.302" stop-color="#ffe200"/><stop offset="0.509" stop-color="#ffc624"/><stop offset="0.621" stop-color="#ffb630"/><stop offset="0.700" stop-color="#f8ca18"/><stop offset="0.756" stop-color="#dcd800"/><stop offset="0.796" stop-color="#9ade07"/><stop offset="0.841" stop-color="#12d64d"/><stop offset="0.918" stop-color="#00ce8b"/><stop offset="1.000" stop-color="#00bba8" stop-opacity="0"/></linearGradient>
</defs>
<path d="M283.0,129.0 C283.7,129.0 288.2,104.5 290.0,104.5 C291.8,104.5 296.3,129.0 297.0,129.0 Z" fill="url(#g27)"/>
<ellipse cx="331.0" cy="129.8" rx="19.5" ry="2.5" fill="#10ca77" filter="url(#b2)" transform="rotate(0 331.0 129.8)"/>
<defs>
<linearGradient id="g28" x1="0" y1="101" x2="0" y2="131" gradientUnits="userSpaceOnUse"><stop offset="0.000" stop-color="#fff305"/><stop offset="0.291" stop-color="#ffe200"/><stop offset="0.491" stop-color="#ffc624"/><stop offset="0.598" stop-color="#ffb630"/><stop offset="0.675" stop-color="#f8ca18"/><stop offset="0.728" stop-color="#dcd800"/><stop offset="0.767" stop-color="#9ade07"/><stop offset="0.818" stop-color="#12d64d"/><stop offset="0.907" stop-color="#00ce8b"/><stop offset="1.000" stop-color="#00bba8" stop-opacity="0"/></linearGradient>
</defs>
<path d="M313.5,131.0 C315.9,131.0 324.7,101.0 329.5,101.0 C335.2,101.0 345.6,131.0 348.5,131.0 Z" fill="url(#g28)"/>
<defs>
<linearGradient id="g29" x1="0" y1="107" x2="0" y2="171" gradientUnits="userSpaceOnUse"><stop offset="0.000" stop-color="#fff305"/><stop offset="0.232" stop-color="#ffe200"/><stop offset="0.390" stop-color="#ffc624"/><stop offset="0.475" stop-color="#ffb630"/><stop offset="0.536" stop-color="#f8ca18"/><stop offset="0.579" stop-color="#dcd800"/><stop offset="0.609" stop-color="#9ade07"/><stop offset="0.695" stop-color="#12d64d"/><stop offset="0.844" stop-color="#00ce8b"/><stop offset="1.000" stop-color="#00bba8" stop-opacity="0"/></linearGradient>
</defs>
<polygon points="173.0,152.0 176.0,144.0 178.0,132.0 181.0,124.0 184.0,122.4 187.0,125.0 189.4,130.0 192.0,124.0 194.6,117.8 197.0,116.6 202.0,117.8 210.0,119.0 218.0,120.0 224.0,120.0 225.0,119.0 227.3,109.0 230.0,107.0 233.0,110.0 235.0,119.0 240.0,120.0 244.0,121.0 246.0,118.0 248.4,111.0 250.4,110.0 253.0,116.0 256.0,122.0 260.0,126.0 265.0,124.0 270.0,120.0 275.0,119.0 280.0,119.7 285.0,119.5 290.0,120.0 293.0,124.0 294.3,132.0 295.3,140.0 296.5,148.0 299.0,160.0 302.0,171.0 158.0,171.0 166.0,161.0" fill="url(#g29)" filter="url(#b1)"/>
<ellipse cx="330.0" cy="162.0" rx="19.5" ry="2.5" fill="#10ca77" filter="url(#b2)" transform="rotate(0 330.0 162.0)"/>
<defs>
<linearGradient id="g30" x1="0" y1="125.5" x2="0" y2="163" gradientUnits="userSpaceOnUse"><stop offset="0.000" stop-color="#fff305"/><stop offset="0.258" stop-color="#ffe200"/><stop offset="0.435" stop-color="#ffc624"/><stop offset="0.530" stop-color="#ffb630"/><stop offset="0.598" stop-color="#f8ca18"/><stop offset="0.646" stop-color="#dcd800"/><stop offset="0.680" stop-color="#9ade07"/><stop offset="0.750" stop-color="#12d64d"/><stop offset="0.872" stop-color="#00ce8b"/><stop offset="1.000" stop-color="#00bba8" stop-opacity="0"/></linearGradient>
</defs>
<polygon points="313.0,162.0 316.0,154.0 318.5,146.0 321.0,137.0 323.0,129.5 325.0,125.5 327.0,128.0 329.4,133.0 331.5,133.0 334.5,131.0 337.0,134.0 339.5,141.0 342.0,149.0 344.5,155.0 347.0,162.0" fill="url(#g30)" filter="url(#b1)"/>
<ellipse cx="405.4" cy="123.8" rx="13.5" ry="2.5" fill="#10ca77" filter="url(#b2)" transform="rotate(0 405.4 123.8)"/>
<defs>
<linearGradient id="g31" x1="0" y1="104.6" x2="0" y2="125" gradientUnits="userSpaceOnUse"><stop offset="0.000" stop-color="#fff305"/><stop offset="0.250" stop-color="#ffe200"/><stop offset="0.420" stop-color="#ffc624"/><stop offset="0.512" stop-color="#ffb630"/><stop offset="0.578" stop-color="#f8ca18"/><stop offset="0.624" stop-color="#dcd800"/><stop offset="0.657" stop-color="#9ade07"/><stop offset="0.732" stop-color="#12d64d"/><stop offset="0.863" stop-color="#00ce8b"/><stop offset="1.000" stop-color="#00bba8" stop-opacity="0"/></linearGradient>
</defs>
<path d="M393.9,125.0 C394.9,125.0 402.6,104.6 406.4,104.6 C409.5,104.6 416.1,125.0 416.9,125.0 Z" fill="url(#g31)"/>
<ellipse cx="456.8" cy="124.0" rx="12.1" ry="2.0" fill="#10ca77" filter="url(#b2)" transform="rotate(0 456.8 124.0)"/>
<defs>
<linearGradient id="g32" x1="0" y1="99.5" x2="0" y2="125" gradientUnits="userSpaceOnUse"><stop offset="0.000" stop-color="#fff305"/><stop offset="0.261" stop-color="#ffe200"/><stop offset="0.439" stop-color="#ffc624"/><stop offset="0.535" stop-color="#ffb630"/><stop offset="0.604" stop-color="#f8ca18"/><stop offset="0.652" stop-color="#dcd800"/><stop offset="0.686" stop-color="#9ade07"/><stop offset="0.755" stop-color="#12d64d"/><stop offset="0.875" stop-color="#00ce8b"/><stop offset="1.000" stop-color="#00bba8" stop-opacity="0"/></linearGradient>
</defs>
<path d="M446.3,125.0 C447.3,125.0 454.7,99.5 458.3,99.5 C461.0,99.5 466.6,125.0 467.3,125.0 Z" fill="url(#g32)"/>
<defs>
<linearGradient id="g33" x1="0" y1="122.6" x2="0" y2="138" gradientUnits="userSpaceOnUse"><stop offset="0.000" stop-color="#fff305"/><stop offset="0.257" stop-color="#ffe200"/><stop offset="0.432" stop-color="#ffc624"/><stop offset="0.527" stop-color="#ffb630"/><stop offset="0.594" stop-color="#f8ca18"/><stop offset="0.642" stop-color="#dcd800"/><stop offset="0.675" stop-color="#9ade07"/><stop offset="0.747" stop-color="#12d64d"/><stop offset="0.870" stop-color="#00ce8b"/><stop offset="1.000" stop-color="#00bba8" stop-opacity="0"/></linearGradient>
</defs>
<path d="M423.5,138.0 C424.4,138.0 426.2,122.6 429.5,122.6 C433.1,122.6 435.0,138.0 436.0,138.0 Z" fill="url(#g33)"/>
<defs>
<linearGradient id="tl" x1="0" y1="0" x2="0" y2="1"><stop offset="0" stop-color="#19ce6c"/><stop offset="0.35" stop-color="#03c0a0"/><stop offset="0.7" stop-color="#00a8d2" stop-opacity="0.7"/><stop offset="1" stop-color="#009de7" stop-opacity="0"/></linearGradient>
<linearGradient id="sp242" x1="0" y1="144.5" x2="0" y2="172" gradientUnits="userSpaceOnUse"><stop offset="0" stop-color="#ffe607"/><stop offset="0.3" stop-color="#ffc428"/><stop offset="0.45" stop-color="#e0c31c"/><stop offset="0.55" stop-color="#88d22f"/><stop offset="0.68" stop-color="#22ce6c"/><stop offset="0.85" stop-color="#00b9b0"/><stop offset="1" stop-color="#00a8d2" stop-opacity="0"/></linearGradient>
</defs>
<path d="M176.5,173.0 L179.2,162.6 L181.5,157.0 L184.0,163.4 L186.5,173.0 Z" fill="url(#tl)" filter="url(#b1)"/>
<path d="M191.0,177.0 L193.8,167.9 L196.0,163.0 L198.5,168.6 L201.0,177.0 Z" fill="url(#tl)" filter="url(#b1)"/>
<path d="M202.0,179.0 L205.3,168.6 L208.0,163.0 L211.0,169.4 L214.0,179.0 Z" fill="url(#tl)" filter="url(#b1)"/>
<path d="M217.0,181.0 L219.8,171.2 L222.0,166.0 L224.5,172.0 L227.0,181.0 Z" fill="url(#tl)" filter="url(#b1)"/>
<path d="M231.2,179.0 L234.2,167.7 L236.7,161.6 L239.4,168.6 L242.2,179.0 Z" fill="url(#tl)" filter="url(#b1)"/>
<path d="M255.0,181.0 L258.9,170.6 L262.0,165.0 L265.5,171.4 L269.0,181.0 Z" fill="url(#tl)" filter="url(#b1)"/>
<path d="M274.0,183.0 L277.3,173.2 L280.0,168.0 L283.0,174.0 L286.0,183.0 Z" fill="url(#tl)" filter="url(#b1)"/>
<path d="M238.8,172 C240.4,166 241.2,154 241.6,148 C241.8,145.4 242,144.5 242.2,144.5 C242.4,144.5 242.7,145.4 242.9,148 C243.4,154 244.4,166 246,172 Z" fill="url(#sp242)"/>
<defs>
<linearGradient id="sp19" x1="0" y1="141" x2="0" y2="199" gradientUnits="userSpaceOnUse"><stop offset="0" stop-color="#ffee05"/><stop offset="0.18" stop-color="#ffd80a"/><stop offset="0.3" stop-color="#ffc428"/><stop offset="0.38" stop-color="#f4c02c"/><stop offset="0.44" stop-color="#a1d228"/><stop offset="0.52" stop-color="#27ce67"/><stop offset="0.64" stop-color="#00beaf"/><stop offset="0.82" stop-color="#00a8d6"/><stop offset="1" stop-color="#0092eb" stop-opacity="0"/></linearGradient>
</defs>
<path d="M292.5,199 C296.5,190 300.6,170 303.2,153 C304.6,145 305.4,140.6 306.4,140.6 C307.4,140.6 308.4,145 309.9,153 C312.8,170 317,190 322,199 Z" fill="url(#sp19)" filter="url(#b1)"/>
<defs>
<linearGradient id="stepg" x1="0" y1="187" x2="0" y2="214" gradientUnits="userSpaceOnUse"><stop offset="0" stop-color="#19ce67"/><stop offset="0.28" stop-color="#05c686"/><stop offset="0.44" stop-color="#00b7b9"/><stop offset="0.6" stop-color="#009be7"/><stop offset="0.78" stop-color="#0564fb"/><stop offset="1" stop-color="#243df5"/></linearGradient>
</defs>
<polygon points="215.0,214.0 219.0,209.0 223.0,204.0 226.0,201.0 229.0,197.5 232.0,195.5 233.2,189.5 234.5,193.0 237.0,192.5 240.0,192.2 245.0,191.0 250.0,190.6 252.0,188.5 256.0,186.0 260.0,185.2 264.0,186.0 270.0,186.2 278.0,186.6 284.0,188.6 288.0,190.4 291.0,191.0 294.0,189.4 298.0,189.0 300.0,192.0 303.0,196.0 307.0,197.0 311.0,197.6 314.0,200.5 317.4,204.0 321.0,207.5 324.0,210.5 326.0,214.0" fill="url(#stepg)" filter="url(#b1)"/>
<g filter="url(#b1)" fill="none" stroke-linejoin="round" stroke-linecap="round">
<polyline points="250.0,196.2 252.0,194.1 256.0,191.6 260.0,190.8 264.0,191.6 270.0,191.8 278.0,192.2 284.0,194.2 288.0,196.0 291.0,196.6 294.0,195.0 298.0,194.6 300.0,197.6" stroke="#27ce67" stroke-width="1.8"/>
<polyline points="250.0,195.0 252.0,192.9 256.0,190.4 260.0,189.6 264.0,190.4 270.0,190.6 278.0,191.0 284.0,193.0 288.0,194.8 291.0,195.4 294.0,193.8 298.0,193.4 300.0,196.4" stroke="#79d239" stroke-width="1.5"/>
<polyline points="250.0,194.0 252.0,191.9 256.0,189.4 260.0,188.6 264.0,189.4 270.0,189.6 278.0,190.0 284.0,192.0 288.0,193.8 291.0,194.4 294.0,192.8 298.0,192.4 300.0,195.4" stroke="#d4c722" stroke-width="1.3"/>
<polyline points="250.0,192.8 252.0,190.7 256.0,188.2 260.0,187.4 264.0,188.2 270.0,188.4 278.0,188.8 284.0,190.8 288.0,192.6 291.0,193.2 294.0,191.6 298.0,191.2 300.0,194.2" stroke="#fdbd2b" stroke-width="1.9"/>
<polyline points="250.0,191.4 252.0,189.3 256.0,186.8 260.0,186.0 264.0,186.8 270.0,187.0 278.0,187.4 284.0,189.4 288.0,191.2 291.0,191.8 294.0,190.2 298.0,189.8 300.0,192.8" stroke="#ffd80a" stroke-width="1.6"/>
</g>
<polyline points="349.0,202.3 344.0,203.8 337.0,206.3 330.0,207.8 321.0,209.3 312.0,209.8 301.0,209.0 290.0,208.8 280.0,210.8 270.0,211.8 263.0,210.3 256.0,209.8 248.0,210.8 240.0,210.8 233.0,209.8 226.0,209.8 220.0,211.3 214.0,211.8 207.0,209.8 200.0,206.8 194.0,203.8" fill="none" stroke="#2e38f1" stroke-width="4.5" stroke-linejoin="round" filter="url(#b4)" opacity="0.85"/>
</g>

<polyline points="264.2,44 311,86.3 320,92.4 331,100 341.8,108.6 346.6,113.2 347.4,117 345,121.6 341.8,125 331,130.5 320,136 309,141.4 297,146" fill="none" stroke="#d81e28" stroke-width="1.4" stroke-dasharray="0.1 2.5" stroke-linecap="round" stroke-linejoin="round"/>
<polyline points="264.9,43.2 311.8,85.4 313.2,89.5 296.3,145.6" fill="none" stroke="#2058b8" stroke-width="1.3" stroke-linejoin="round"/>
<circle cx="264.9" cy="43.3" r="1.6" fill="#ffe800" stroke="#222" stroke-width="0.8"/>
<circle cx="296.3" cy="145.7" r="1.6" fill="#ffe800" stroke="#222" stroke-width="0.8"/>
<text x="260.2" y="40.4" font-size="12" font-weight="bold" text-anchor="middle" fill="#111">A</text>
<text x="293.6" y="156" font-size="12" font-weight="bold" text-anchor="middle" fill="#111">B</text>
<text x="51.4" y="95.0" font-size="10.2" text-anchor="end">0</text>
<text x="51.4" y="104.3" font-size="10.2" text-anchor="end">−500</text>
<text x="51.4" y="113.6" font-size="10.2" text-anchor="end">−1000</text>
<text x="51.4" y="122.8" font-size="10.2" text-anchor="end">−1500</text>
<text x="51.4" y="132.1" font-size="10.2" text-anchor="end">−2000</text>
<text x="51.4" y="141.4" font-size="10.2" text-anchor="end">−2500</text>
<text x="51.4" y="150.7" font-size="10.2" text-anchor="end">−3000</text>
<text x="51.4" y="160.0" font-size="10.2" text-anchor="end">−3500</text>
<text x="43.1" y="183.2" font-size="10.2" text-anchor="middle">112</text>
<text x="95.6" y="205.9" font-size="10.2" text-anchor="middle">113</text>
<text x="148.0" y="228.6" font-size="10.2" text-anchor="middle">114</text>
<text x="200.5" y="251.3" font-size="10.2" text-anchor="middle">115</text>
<text x="252.9" y="274.0" font-size="10.2" text-anchor="middle">116</text>
<text x="282.0" y="273.8" font-size="10.2" text-anchor="middle">7</text>
<text x="351.9" y="243.7" font-size="10.2" text-anchor="middle">8</text>
<text x="421.8" y="213.3" font-size="10.2" text-anchor="middle">9</text>
<text x="493.7" y="182.8" font-size="10.2" text-anchor="middle">10</text>
<path d="M60.7,94 V168.6 L270.5,259.4 L480.2,168.4 M60.7,94.0 l-5.4,-1.8 M60.7,103.3 l-5.4,-1.8 M60.7,112.6 l-5.4,-1.8 M60.7,121.8 l-5.4,-1.8 M60.7,131.1 l-5.4,-1.8 M60.7,140.4 l-5.4,-1.8 M60.7,149.7 l-5.4,-1.8 M60.7,159.0 l-5.4,-1.8 M60.7,168.6 l-4.6,2.4 M113.2,191.3 l-4.6,2.4 M165.6,214.0 l-4.6,2.4 M218.1,236.7 l-4.6,2.4 M270.5,259.4 l-4.6,2.4 M270.5,259.4 l4.6,2.4 M340.4,229.1 l4.6,2.4 M410.3,198.7 l4.6,2.4 M480.2,168.4 l4.6,2.4" fill="none" stroke="#222" stroke-width="0.9"/>
<text transform="translate(19 131.5) rotate(-90)" font-size="12.3" text-anchor="middle">Depth/m</text>
<text transform="translate(132.8 237) rotate(20.8)" font-size="11.9" text-anchor="middle">Longitude/°E</text>
<text transform="translate(399.4 236.1) rotate(-19.5)" font-size="11.9" text-anchor="middle">Latitude/°N</text>
<text x="274.4" y="292.2" font-size="13.6" text-anchor="middle" fill="#111">(<tspan font-weight="bold">a</tspan>)</text>
<line x1="498.8" y1="13.5" x2="517.4" y2="13.5" stroke="#ff2a2a" stroke-width="1.2" stroke-dasharray="1.2 0.9"/>
<line x1="498.8" y1="34.9" x2="517.6" y2="34.9" stroke="#0f7bd6" stroke-width="1.5"/>
<text x="519.6" y="19.4" font-size="15.6" fill="#111">D</text>
<text x="520.2" y="36.9" font-size="15.6" fill="#111">T<tspan font-size="10.8" dy="7.2" dx="-0.4">D</tspan></text>
</g>
<g id="panel-b">
<g fill="#000" shape-rendering="crispEdges">
<rect x="83.90" y="301.50" width="9.80" height="9.83"/>
<rect x="64.50" y="311.13" width="9.80" height="9.83"/>
<rect x="132.40" y="311.13" width="9.80" height="9.83"/>
<rect x="132.40" y="330.39" width="19.50" height="9.83"/>
<rect x="180.90" y="330.39" width="19.50" height="9.83"/>
<rect x="54.80" y="340.02" width="9.80" height="9.83"/>
<rect x="258.50" y="340.02" width="9.80" height="9.83"/>
<rect x="45.10" y="349.65" width="19.50" height="9.83"/>
<rect x="122.70" y="349.65" width="9.80" height="9.83"/>
<rect x="113.00" y="359.28" width="19.50" height="9.83"/>
<rect x="229.40" y="359.28" width="9.80" height="9.83"/>
<rect x="258.50" y="359.28" width="9.80" height="9.83"/>
<rect x="113.00" y="368.91" width="9.80" height="9.83"/>
<rect x="239.10" y="368.91" width="9.80" height="9.83"/>
<rect x="83.90" y="378.54" width="48.60" height="9.83"/>
<rect x="103.30" y="388.17" width="9.80" height="9.83"/>
<rect x="45.10" y="397.80" width="29.20" height="9.83"/>
<rect x="248.80" y="397.80" width="9.80" height="9.83"/>
<rect x="45.10" y="407.43" width="29.20" height="9.83"/>
<rect x="93.60" y="407.43" width="9.80" height="9.83"/>
<rect x="248.80" y="407.43" width="9.80" height="9.83"/>
<rect x="54.80" y="417.06" width="29.20" height="9.83"/>
<rect x="248.80" y="417.06" width="9.80" height="9.83"/>
<rect x="54.80" y="426.69" width="19.50" height="9.83"/>
<rect x="83.90" y="426.69" width="9.80" height="9.83"/>
<rect x="103.30" y="426.69" width="9.80" height="9.83"/>
<rect x="219.70" y="426.69" width="48.60" height="9.83"/>
<rect x="45.10" y="436.32" width="19.50" height="9.83"/>
<rect x="93.60" y="436.32" width="9.80" height="9.83"/>
<rect x="113.00" y="436.32" width="9.80" height="9.83"/>
<rect x="132.40" y="436.32" width="9.80" height="9.83"/>
<rect x="219.70" y="436.32" width="9.80" height="9.83"/>
<rect x="239.10" y="436.32" width="9.80" height="9.83"/>
<rect x="45.10" y="445.95" width="29.20" height="9.83"/>
<rect x="122.70" y="445.95" width="19.50" height="9.83"/>
<rect x="161.50" y="445.95" width="19.50" height="9.83"/>
<rect x="210.00" y="445.95" width="29.20" height="9.83"/>
<rect x="45.10" y="455.58" width="29.20" height="9.83"/>
<rect x="103.30" y="455.58" width="38.90" height="9.83"/>
<rect x="171.20" y="455.58" width="9.80" height="9.83"/>
<rect x="200.30" y="455.58" width="9.80" height="9.83"/>
<rect x="45.10" y="465.21" width="19.50" height="9.83"/>
<rect x="83.90" y="465.21" width="9.80" height="9.83"/>
<rect x="132.40" y="465.21" width="29.20" height="9.83"/>
<rect x="200.30" y="465.21" width="9.80" height="9.83"/>
</g>
<g fill="#808080">
<ellipse cx="101.5" cy="319.9" rx="8.2" ry="3.6" transform="rotate(-30 101.5 319.9)"/>
<ellipse cx="89.5" cy="347.3" rx="1.6" ry="1.6" transform="rotate(0 89.5 347.3)"/>
<ellipse cx="61.2" cy="364.6" rx="7.4" ry="3.2" transform="rotate(-22 61.2 364.6)"/>
<ellipse cx="79.7" cy="366.8" rx="5.2" ry="2.8" transform="rotate(5 79.7 366.8)"/>
<ellipse cx="92.5" cy="363.5" rx="4.2" ry="2.6" transform="rotate(-40 92.5 363.5)"/>
<ellipse cx="141.6" cy="344.5" rx="2.2" ry="3.8" transform="rotate(0 141.6 344.5)"/>
<ellipse cx="144.0" cy="358.0" rx="4.6" ry="3.6" transform="rotate(-15 144.0 358.0)"/>
<ellipse cx="160.7" cy="366.0" rx="5.4" ry="5.0" transform="rotate(0 160.7 366.0)"/>
<ellipse cx="174.0" cy="370.0" rx="5.0" ry="6.2" transform="rotate(0 174.0 370.0)"/>
<ellipse cx="199.4" cy="364.9" rx="1.9" ry="1.9" transform="rotate(0 199.4 364.9)"/>
<ellipse cx="182.6" cy="386.7" rx="2.3" ry="2.3" transform="rotate(0 182.6 386.7)"/>
<ellipse cx="245.7" cy="335.2" rx="1.5" ry="1.8" transform="rotate(0 245.7 335.2)"/>
<ellipse cx="233.0" cy="393.7" rx="5.2" ry="3.0" transform="rotate(12 233.0 393.7)"/>
<ellipse cx="242.8" cy="395.0" rx="3.1" ry="3.9" transform="rotate(0 242.8 395.0)"/>
<ellipse cx="241.3" cy="415.5" rx="1.6" ry="1.5" transform="rotate(0 241.3 415.5)"/>
<ellipse cx="200.0" cy="408.0" rx="11.3" ry="5.0" transform="rotate(-12 200.0 408.0)"/>
<ellipse cx="169.7" cy="410.0" rx="2.9" ry="2.2" transform="rotate(-10 169.7 410.0)"/>
<ellipse cx="157.0" cy="418.2" rx="5.4" ry="3.9" transform="rotate(35 157.0 418.2)"/>
<ellipse cx="186.5" cy="420.2" rx="5.4" ry="4.6" transform="rotate(30 186.5 420.2)"/>
<ellipse cx="150.4" cy="450.8" rx="4.1" ry="2.9" transform="rotate(0 150.4 450.8)"/>
<ellipse cx="98.3" cy="422.0" rx="3.3" ry="2.6" transform="rotate(-10 98.3 422.0)"/>
<clipPath id="bclip"><rect x="45.1" y="301.6" width="223.1" height="173.3"/></clipPath>
<g clip-path="url(#bclip)">
<ellipse cx="187.5" cy="308" rx="14.5" ry="6.3" transform="rotate(-27 187.5 308)"/>
<ellipse cx="180.3" cy="313" rx="5.6" ry="6"/>
<ellipse cx="250.6" cy="302" rx="3.3" ry="4.6"/>
</g>
<path d="M111.3,413.4 C110.6,410.4 113.2,409.4 116,408.6 C119.6,407 121.6,402.6 122.6,398.6 C123.4,396.2 126.4,396.6 126.5,399.2 C126.8,405.4 123.2,411.2 118.2,413.8 C115.6,415.2 112,416 111.3,413.4 Z"/>
<path d="M146.4,440 C146.5,437.5 150,436 154,435.5 C158,435 161,433.5 163.5,430.5 C166,427.5 169,427 171.5,425 C173,422 175.5,419.5 178,419.8 C180.5,420 182.5,424 183.5,428 C184,432 182,436 178,438 C174.5,440 173,443.5 169.5,443.8 C165,441.5 158,442 152,442.5 C148.5,443 146.3,442 146.4,440 Z"/>
</g>
<polyline points="85.4,336.2 141,340.3 213.6,363.9 214.4,406 236.9,423.3" fill="none" stroke="#ff5c5c" stroke-width="0.8"/>
<polyline points="85.4,336.2 141,351.4 168.8,358.8 179,365.9 210.5,397 236.9,423.3" fill="none" stroke="#0f7bd6" stroke-width="1.2" stroke-linejoin="round"/>
<circle cx="85.4" cy="336.2" r="1.5" fill="#ffe800" stroke="#444" stroke-width="0.7"/>
<circle cx="236.9" cy="423.3" r="1.5" fill="#ffe800" stroke="#444" stroke-width="0.7"/>
<text x="82.4" y="333.8" font-size="7.5" font-weight="bold" text-anchor="middle" fill="#111">A</text>
<text x="242.8" y="424.2" font-size="7.5" font-weight="bold" text-anchor="middle" fill="#111">B</text>
<rect x="45.1" y="301.6" width="223.1" height="173.3" fill="none" stroke="#333" stroke-width="0.8"/>
<path d="M45.1,474.9 v-2.2 M45.1,301.6 v2.2 M83.9,474.9 v-2.2 M83.9,301.6 v2.2 M122.7,474.9 v-2.2 M122.7,301.6 v2.2 M161.5,474.9 v-2.2 M161.5,301.6 v2.2 M200.3,474.9 v-2.2 M200.3,301.6 v2.2 M239.1,474.9 v-2.2 M239.1,301.6 v2.2 M45.1,301.6 h2.2 M268.2,301.6 h-2.2 M45.1,320.9 h2.2 M268.2,320.9 h-2.2 M45.1,340.1 h2.2 M268.2,340.1 h-2.2 M45.1,359.4 h2.2 M268.2,359.4 h-2.2 M45.1,378.6 h2.2 M268.2,378.6 h-2.2 M45.1,397.9 h2.2 M268.2,397.9 h-2.2 M45.1,417.2 h2.2 M268.2,417.2 h-2.2 M45.1,436.4 h2.2 M268.2,436.4 h-2.2 M45.1,455.7 h2.2 M268.2,455.7 h-2.2 M45.1,474.9 h2.2 M268.2,474.9 h-2.2" stroke="#333" stroke-width="0.6" fill="none"/>
<text x="45.1" y="485.4" font-size="8.2" text-anchor="middle">112.0083</text>
<text x="83.9" y="485.4" font-size="8.2" text-anchor="middle">112.6750</text>
<text x="122.7" y="485.4" font-size="8.2" text-anchor="middle">113.3416</text>
<text x="161.5" y="485.4" font-size="8.2" text-anchor="middle">114.0083</text>
<text x="200.3" y="485.4" font-size="8.2" text-anchor="middle">114.6750</text>
<text x="239.1" y="485.4" font-size="8.2" text-anchor="middle">115.3416</text>
<text x="43" y="304.5" font-size="8.2" text-anchor="end">10.0076</text>
<text x="43" y="323.8" font-size="8.2" text-anchor="end">9.6743</text>
<text x="43" y="343.0" font-size="8.2" text-anchor="end">9.3409</text>
<text x="43" y="362.3" font-size="8.2" text-anchor="end">9.0076</text>
<text x="43" y="381.5" font-size="8.2" text-anchor="end">8.6743</text>
<text x="43" y="400.8" font-size="8.2" text-anchor="end">8.3409</text>
<text x="43" y="420.1" font-size="8.2" text-anchor="end">8.0076</text>
<text x="43" y="439.3" font-size="8.2" text-anchor="end">7.6743</text>
<text x="43" y="458.6" font-size="8.2" text-anchor="end">7.3409</text>
<text x="43" y="477.8" font-size="8.2" text-anchor="end">7.0076</text>
<text x="157.5" y="495.6" font-size="9.3" text-anchor="middle">Longitude/°E</text>
<text transform="translate(12.3 388.5) rotate(-90)" font-size="9.3" text-anchor="middle">Latitude/°N</text>
<text x="137.4" y="512" font-size="13.6" text-anchor="middle" fill="#111">(<tspan font-weight="bold">b</tspan>)</text>
</g>
<g id="panel-c">
<polyline points="358.2,319.2 414.5,369.9 478.5,337.7 479.1,368.3 500.4,314.8" fill="none" stroke="#ff2a2a" stroke-width="1.1" stroke-dasharray="1 1.1"/>
<line x1="358.2" y1="319.2" x2="500.4" y2="314.8" stroke="#0f7bd6" stroke-width="1.5"/>
<circle cx="358.2" cy="319.2" r="1.7" fill="#ffe800" stroke="#333" stroke-width="0.8"/>
<circle cx="500.4" cy="314.8" r="1.7" fill="#ffe800" stroke="#333" stroke-width="0.8"/>
<text x="351.2" y="319" font-size="9.5" font-weight="bold" text-anchor="middle" fill="#111">A</text>
<text x="507.4" y="316.6" font-size="9.5" font-weight="bold" text-anchor="middle" fill="#111">B</text>
<rect x="320.1" y="306.2" width="219.5" height="159.8" fill="none" stroke="#262626" stroke-width="1"/>
<text x="320.1" y="479.2" font-size="9.8" text-anchor="middle">112</text>
<text x="375.0" y="479.2" font-size="9.8" text-anchor="middle">113</text>
<text x="429.9" y="479.2" font-size="9.8" text-anchor="middle">114</text>
<text x="484.7" y="479.2" font-size="9.8" text-anchor="middle">115</text>
<text x="539.6" y="479.2" font-size="9.8" text-anchor="middle">116</text>
<text x="317" y="309.3" font-size="9.7" text-anchor="end">0</text>
<text x="317" y="332.1" font-size="9.7" text-anchor="end">−500</text>
<text x="317" y="355.0" font-size="9.7" text-anchor="end">−1000</text>
<text x="317" y="377.8" font-size="9.7" text-anchor="end">−1500</text>
<text x="317" y="400.6" font-size="9.7" text-anchor="end">−2000</text>
<text x="317" y="423.4" font-size="9.7" text-anchor="end">−2500</text>
<text x="317" y="446.3" font-size="9.7" text-anchor="end">−3000</text>
<text x="317" y="469.1" font-size="9.7" text-anchor="end">−3500</text>
<path d="M320.1,466.0 v-2.4 M320.1,306.2 v2.4 M375.0,466.0 v-2.4 M375.0,306.2 v2.4 M429.9,466.0 v-2.4 M429.9,306.2 v2.4 M484.7,466.0 v-2.4 M484.7,306.2 v2.4 M539.6,466.0 v-2.4 M539.6,306.2 v2.4 M320.1,306.2 h2.4 M539.6,306.2 h-2.4 M320.1,329.0 h2.4 M539.6,329.0 h-2.4 M320.1,351.9 h2.4 M539.6,351.9 h-2.4 M320.1,374.7 h2.4 M539.6,374.7 h-2.4 M320.1,397.5 h2.4 M539.6,397.5 h-2.4 M320.1,420.3 h2.4 M539.6,420.3 h-2.4 M320.1,443.2 h2.4 M539.6,443.2 h-2.4 M320.1,466.0 h2.4 M539.6,466.0 h-2.4" stroke="#333" stroke-width="0.6" fill="none"/>
<text x="429" y="492.2" font-size="10.4" text-anchor="middle">Longitude/°E</text>
<text transform="translate(287.8 386.8) rotate(-90)" font-size="10.4" text-anchor="middle">Depth/m</text>
<text x="412.4" y="512" font-size="13.6" text-anchor="middle" fill="#111">(<tspan font-weight="bold">c</tspan>)</text>
</g>
</svg></body></html>
